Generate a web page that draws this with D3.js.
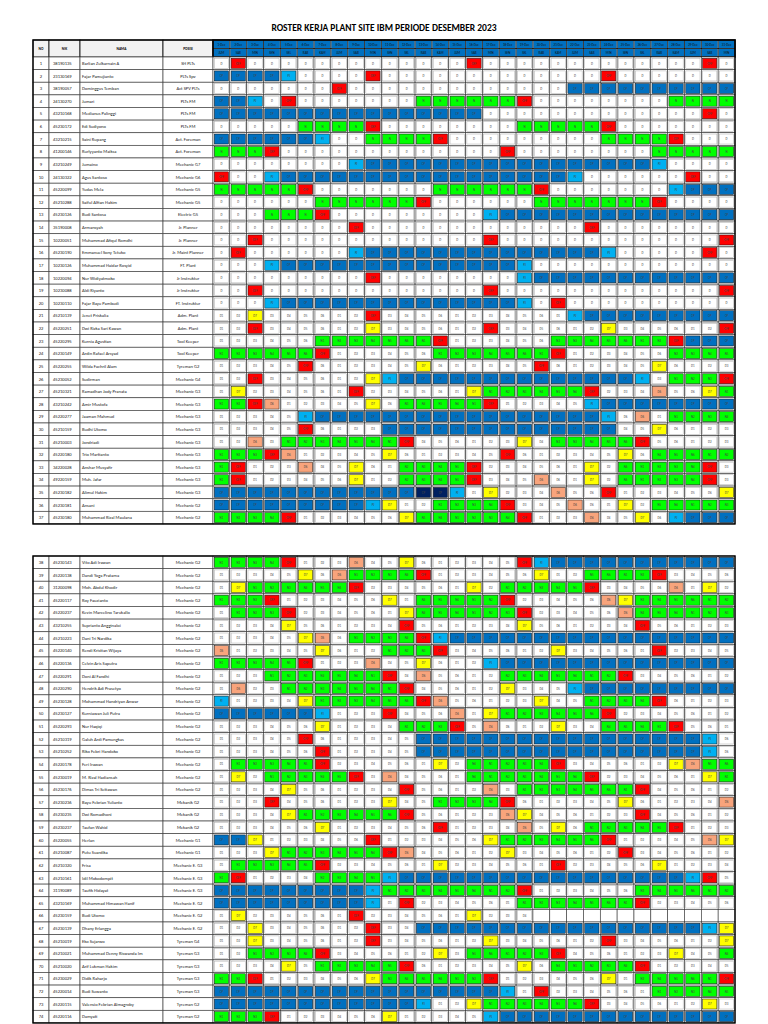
<!DOCTYPE html>
<html><head><meta charset="utf-8">
<script src="https://cdn.jsdelivr.net/npm/d3@7/dist/d3.min.js"></script>
<style>body{margin:0;background:#fff}svg{display:block}text{font-family:Calibri,"Liberation Sans",Arial,sans-serif}</style>
</head><body>
<script>
const title = "ROSTER KERJA PLANT SITE IBM PERIODE DESEMBER  2023";
const dates = d3.range(1,32).map(d => d + "-Dec");
const dayNames = ["JUM","SAB","MIN","SEN","SEL","RAB","KAM"];
const colHeads = ["NO","NIK","NAMA","POSISI"];
const nik = ["38190135","23130169","38190057","24130270","43210168","45230172","43210215","41200146","43210249","24130322","45220099","45210288","45230126","35190008","10220051","45230190","10230126","10220094","10230088","10230110","45210139","45220251","45220295","45230149","45220255","45230052","45210321","43210242","45220277","45210159","45210003","45220180","34220028","49220159","45230182","45230181","45230180",
"45230143","45220138","31200098","45220117","45220237","43210255","45210223","45220140","45220136","45220291","45220290","45230128","45230127","45220293","45210319","45210252","45220178","45230019","45230176","45230236","45230235","45230237","45220055","45210087","45210320","45210161","31190089","43210169","45230159","45230139","45210019","45210021","45210020","45230029","45220014","45220115","45220116"];
const names = ["Barlian Zulkarnain A","Fajar Pamujianto","Dominggus Temban","Jumari","Medianus Palinggi","Edi Sudiyono","Saini Rupang","Rurlyyanto Maiksa","Jumaino","Agus Santoso","Yudas Mela","Saiful Alfian Hakim","Budi Santosa","Armansyah","Muhammad Afiqul Romdhi","Emmanuel Sony Tetuko","Muhammad Haidar Rosyid","Nur Widiyatmoko","Aldi Riyanto","Fajar Bayu Pambudi","Jenet Priskalia","Dwi Rizka Sari Kawan","Kurnia Agustian","Ardin Rafael Arsyad","Wilda Fachril Alam","Sudirman","Ramadhan Jody Pranata","Amir Mustofa","Jaaman Mahmud","Budhi Utomo","Jondriadi","Trio Martianto","Anshar Musyafir","Muh. Jafar","Alimul Hakim","Ansani","Muhammad Rizal Maulana",
"Vito Adi Irawan","Dandi Yoga Pratama","Moh. Abdul Khodir","Roy Fauzianto","Kevin Marcelino Tarukallo","Suprianto Angginaloi","Dani Tri Nardika","Rendi Kristian Wijaya","Celvin Aris Saputra","Doni Al Fandhi","Hendrik Adi Prasetyo","Mohammad Handriyan Anwar","Kurniawan Juli Putra","Nur Haqiqi","Galuh Ardi Pamungkas","Riko Febri Handoko","Feri Irawan","M. Rizal Hadiansah","Dimas Tri Setiawan","Bayu Febrian Yulianto","Dwi Romadhoni","Taufan Wahid","Herlan","Putu Suardika","Frisa","Idil Mokodompit","Taufik Hidayat","Muhammad Himawan Hanif","Budi Utomo","Dhany Erlangga","Eko Sujarwo","Muhammad Denny Riswanda Im","Arif Lukman Hakim","Didik Raharjo","Budi Suwanto","Valensio Febrian Almagroby","Damyati"];
const positions = ["SH PLTs","PLTs Spv","Act SPV PLTs","PLTs FM","PLTs FM","PLTs FM","Act. Foreman","Act. Foreman","Mechanic G7","Mechanic G6","Mechanic G5","Mechanic G5","Electric G5","Jr. Planner","Jr. Planner","Jr. Maint Planner","FT. Plant","Jr Instruktur","Jr Instruktur","FT. Instruktur","Adm. Plant","Adm. Plant","Tool Keeper","Tool Keeper","Tyreman G2","Mechanic G4","Mechanic G3","Mechanic G3","Mechanic G3","Mechanic G3","Mechanic G3","Mechanic G3","Mechanic G3","Mechanic G3","Mechanic G3","Mechanic G2","Mechanic G2",
"Mechanic G2","Mechanic G2","Mechanic G2","Mechanic G2","Mechanic G2","Mechanic G2","Mechanic G2","Mechanic G2","Mechanic G2","Mechanic G2","Mechanic G2","Mechanic G2","Mechanic G2","Mechanic G2","Mechanic G2","Mechanic G2","Mechanic G2","Mechanic G2","Mechanic G2","Mekanik G2","Mekanik G2","Mekanik G2","Mechanic G1","Mechanic G1","Mechanic E.  G3","Mechanic E.  G3","Mechanic E.  G3","Mechanic E.  G2","Mechanic E.  G2","Mechanic E.  G2","Tyreman G4","Tyreman G3","Tyreman G3","Tyreman G3","Tyreman G3","Tyreman G2","Tyreman G2"];
// shift runs per row (code + number of days): d=D, o=OFF, c=CP, p=PJ, n=N, y=D7, s=D6, k=dark CP, e=empty
const rosterRuns = [
"d1o1d13o1d13o1d1","c4p1d4o1d13o1d7","d7o1d13c10","c2p1d1o1d7n6o1d8n4","c16d13o1d1","d5n4o1d8n5o1d7",
"c6p1d2n4o1d9n4o1d3","n3o1d13o1d8n5","d8p1c17p1d4","o1d2p1c17p1d6o1d2","n5o1d7n6o1d7p1c3","d6n6o1d6n7o1d4",
"d3n3o1d9p1c14","d8o1d13o1d8","d2o1d13o1d13o1","d1o1d6p1c14p1d5o1d1","d3p1c14p1d12","d9o1d8p1c12",
"d2o1d13o1d13o1","d3p1c14p1d1o1d10","d2y1d6o1d11p1c9","d2o1d6y1d6o1d6y1d6o1","d6n7o1d6n7o1c3","n6o1d6n7o1d6n4",
"d5o1d6y1d6o1d6y1d4","d2o1d6y1p1c14p1d1n3o1","d1y1d6o1d6y1n6o1d3s1d2y1n1","n2o1s1d5y1d1n5o1d5p1c8","d5p1c17p1d1s1d1n4",
"d5o1d4c14d2y1d4","d2s1d1n7o1d6y1d1n5o1d5","n3o1s1d5y1d6o1d6y1d1n5","n1o1d3s1d2y1d2n4o1d6y1d1n5o1d1",
"n1o1d6y1d2n4o1d3s1d2y1d1n5o1d1","c12k2p1d1y1d3s1d2o1d6y1","c9p1y1d2n4o1d3s1d2y1d1n5","n4o1d6y1n6o1d3s1d2y1d1p1c3",
"n4o1d3s1d2y1d6o1p1c11","d5y1d1s1n4o1d6y1d2n4o1d4","d1y1n6o1d6y1d1n5o1d4s1d1y1d1","n3o1d6y1d1n5o1d5s1y1n6",
"d1n3o1d6y1n6o1d5s1n6","d4y1d6o1d6y1d6o1d5","d5y1s1d1n4o1p1c17","s1d5y1d3n3o1d6y1d5o1d4","n5o1d3s1d2y1d3p1c14",
"d3n7o1d1s1d4n7o1d6","d1s1d2n7o1d5y1d3p1c9","p1d4y1n6o1s1d5y1d2n4o1d4","c6p1d3o1d3s1d1y1n6o1d7",
"d6y1d4n3o1d1s1d3y1d2n4o1d3","d5o1d6c17p1d1","d6o1d5c17p1d1","d1n5o1d6y1d1n5o1d6y1s1n2","d1y1d1n5o1d1s1d4n7o1d6y1n1",
"d4y1d6o1d4s1d1n7o1d5","d3o1d6y1d2n4o1d6y1d5s1","d4y1n6o1d5s1y1d6o1d5","d6y1d6o1d4s1d1y1d1n5o1d3",
"c2y1d6o1d6y1n6o1d5s1y1","d3y1n6o1s1d5y1d6o1d6","d1n5o1d6y1d6o1d5y1d4","n1o1d4n4p1c17p1o1d1","c9p1n8o1d6n6",
"c9p1d1o1d6n7o1d5","d1y1d6o1d6y1d3e12","d2y1d6o1d2c17p1y1","d2y1d6o1d6y1d6o1d6y1","d2n4o1d6y1d1n5o1d6y1d2n1",
"d4y1d1n5o1d6y1d1n5o1d5","n2o1d6y1n6o1d6y1d1n5o1","c17p1d1o1d6n5","c12p1d2y1n6o1d6y1d1","n3o1d6y1d5p1c14"
];
const roster = rosterRuns.map(r => Array.from(r.matchAll(/([a-z])(\d+)/g)).flatMap(m => Array(+m[2]).fill(m[1])));
const colors = {d:"#ffffff",o:"#ff0000",c:"#0070c0",p:"#00b0f0",n:"#00ff00",y:"#ffff00",s:"#f8a47c",k:"#002060",e:"#ffffff"};

const W = 768, H = 1024;
const svg = d3.select("body").append("svg").attr("width",W).attr("height",H);
svg.append("text").attr("x",384).attr("y",31).attr("text-anchor","middle")
  .attr("font-size",9.5).attr("font-weight","bold").text(title);

const leftCols = [{x0:33,x1:49},{x0:49,x1:80},{x0:80,x1:163},{x0:163,x1:213}];
const x = d3.scaleBand().domain(dates).range([213,735]);
const rowH = 12.62;
const y1 = d3.scaleBand().domain(d3.range(0,37)).range([57,57+37*rowH]);
const y2 = d3.scaleBand().domain(d3.range(37,74)).range([556,556+37*rowH]);
const yOf = i => i < 37 ? y1(i) : y2(i);

const hTop = 40, hMid = 48.5, hBot = 57;
leftCols.forEach((c,i) => {
  svg.append("rect").attr("x",c.x0).attr("y",hTop).attr("width",c.x1-c.x0).attr("height",hBot-hTop)
    .attr("fill","#f2f2f2").attr("stroke","#000").attr("stroke-width",0.8);
  svg.append("text").attr("x",(c.x0+c.x1)/2).attr("y",(hTop+hBot)/2+1).attr("text-anchor","middle")
    .attr("font-size",3.6).attr("font-weight","bold").text(colHeads[i]);
});
dates.forEach((d,i) => {
  svg.append("rect").attr("x",x(d)+0.5).attr("y",hTop+0.5).attr("width",x.bandwidth()-1).attr("height",hMid-hTop-1).attr("fill","#0070c0");
  svg.append("rect").attr("x",x(d)+0.5).attr("y",hMid+0.5).attr("width",x.bandwidth()-1).attr("height",hBot-hMid-1).attr("fill","#0070c0");
  svg.append("text").attr("x",x(d)+x.bandwidth()/2).attr("y",hTop+5.8).attr("text-anchor","middle").attr("font-size",3.3).attr("fill","#111").text(d);
  svg.append("text").attr("x",x(d)+x.bandwidth()/2).attr("y",hMid+5.8).attr("text-anchor","middle").attr("font-size",3.3).attr("fill","#111").text(dayNames[i%7]);
  svg.append("line").attr("x1",x(d)).attr("x2",x(d)).attr("y1",hTop).attr("y2",hBot).attr("stroke","#000").attr("stroke-width",0.8);
});
svg.append("rect").attr("x",213).attr("y",hTop).attr("width",522).attr("height",hBot-hTop).attr("fill","none").attr("stroke","#000").attr("stroke-width",1.5);
svg.append("line").attr("x1",213).attr("x2",735).attr("y1",hMid).attr("y2",hMid).attr("stroke","#000").attr("stroke-width",0.8);

roster.forEach((codes,i) => {
  const yy = yOf(i);
  const g = svg.append("g");
  const vals = [String(i+1), nik[i], names[i], positions[i]];
  leftCols.forEach((c,j) => {
    g.append("rect").attr("x",c.x0).attr("y",yy).attr("width",c.x1-c.x0).attr("height",rowH)
      .attr("fill","#fff").attr("stroke","#444").attr("stroke-width",0.7);
    const t = g.append("text").attr("y",yy+rowH/2+1.7).attr("font-size",4.6).attr("fill","#222").text(vals[j]);
    if (j===2) t.attr("x",c.x0+2);
    else if (j===1) t.attr("x",c.x0+4);
    else t.attr("x",(c.x0+c.x1)/2).attr("text-anchor","middle");
  });
  let dn = 0, nn = 0;
  const mgmt = i < 20;
  codes.slice(0,31).forEach((ch,k) => {
    const d = dates[k];
    let label;
    if (ch==="d") { dn = dn%6+1; label = mgmt ? "D" : "D"+dn; }
    else if (ch==="n") { nn = nn%6+1; label = mgmt ? "N" : "N"+nn; }
    else label = {o:"OFF",c:"CP",p:"PJ",y:"D7",s:"D6",k:"CP",e:""}[ch];
    g.append("rect").attr("x",x(d)).attr("y",yy).attr("width",x.bandwidth()).attr("height",rowH)
      .attr("fill","#fff").attr("stroke","#333").attr("stroke-width",0.6);
    if (ch!=="e") {
      g.append("rect").attr("x",x(d)+1.3).attr("y",yy+1.3).attr("width",x.bandwidth()-2.6).attr("height",rowH-2.6)
        .attr("fill",colors[ch]).attr("stroke", ch==="d" ? "#aaa" : "#111").attr("stroke-width",0.5);
      g.append("text").attr("x",x(d)+x.bandwidth()/2).attr("y",yy+rowH/2+1.2).attr("text-anchor","middle")
        .attr("font-size",3.2).attr("fill","#444").text(label);
    }
  });
});
[[40,57+37*rowH],[556,556+37*rowH]].forEach(([a,b])=>{
  svg.append("rect").attr("x",33).attr("y",a).attr("width",702).attr("height",b-a).attr("fill","none").attr("stroke","#000").attr("stroke-width",1.4);
});
</script>
</body></html>
